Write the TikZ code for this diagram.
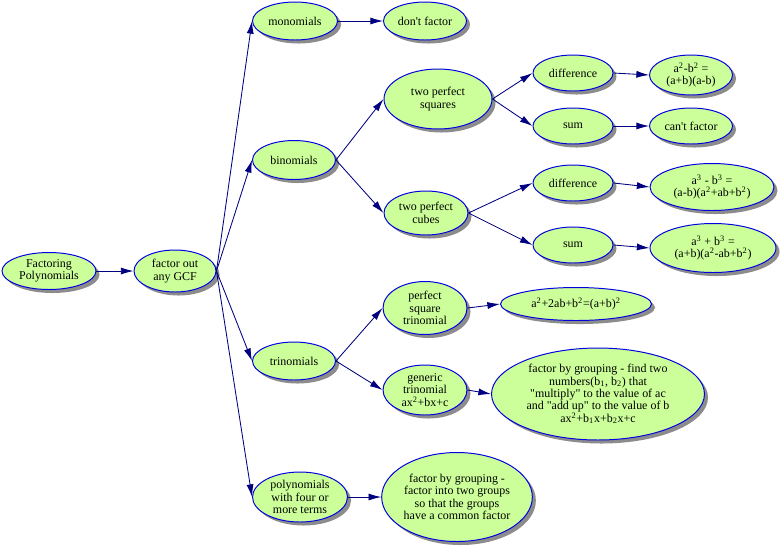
\documentclass[tikz,border=0pt]{standalone}
\usepackage{fontspec}
\setmainfont{Liberation Serif}
\usepackage{xcolor}
\usepackage{tikz}
\usetikzlibrary{positioning,shapes.geometric,shadows,arrows.meta}

\definecolor{bubblefill}{HTML}{CCFF99}
\definecolor{bubbleline}{HTML}{0000E0}
\definecolor{arrowline}{HTML}{000080}

\begin{document}
\begin{tikzpicture}[x=0.025cm, y=-0.025cm,
	bubble/.style={ellipse, draw=bubbleline, line width=0.7pt, fill=bubblefill,
		inner sep=0pt, align=center, font=\fontsize{8.5}{8.8}\selectfont,
		drop shadow={shadow xshift=2.5pt, shadow yshift=-2.5pt, fill=black!45, opacity=1}},
	link/.style={-{Latex[length=9pt, width=5pt]}, draw=arrowline, line width=0.6pt}]
	\useasboundingbox (0,0) rectangle (780,547);

	\node[bubble, minimum width=94pt*0.711, minimum height=37pt*0.711] (fp) at (49,271) {Factoring\\Polynomials};
	\node[bubble, minimum width=82pt*0.711, minimum height=42pt*0.711] (gcf) at (175,271) {factor out\\any GCF};

	\node[bubble, minimum width=85pt*0.711, minimum height=38pt*0.711] (mono) at (295,21) {monomials};
	\node[bubble, minimum width=83pt*0.711, minimum height=38pt*0.711] (dont) at (425,21) {don\textquotesingle t factor};

	\node[bubble, minimum width=83pt*0.711, minimum height=39pt*0.711] (bin) at (294,160) {binomials};
	\node[bubble, minimum width=108pt*0.711, minimum height=60pt*0.711] (sq) at (438,99) {two perfect\\squares};
	\node[bubble, minimum width=84pt*0.711, minimum height=44pt*0.711] (cub) at (426,213) {two perfect\\cubes};

	\node[bubble, minimum width=80pt*0.711, minimum height=36pt*0.711] (diffa) at (573,73) {difference};
	\node[bubble, minimum width=83pt*0.711, minimum height=40pt*0.711] (sqdiff) at (691,75) {a\textsuperscript{2}-b\textsuperscript{2} =\\(a+b)(a-b)};
	\node[bubble, minimum width=80pt*0.711, minimum height=36pt*0.711] (suma) at (573,126) {sum};
	\node[bubble, minimum width=83pt*0.711, minimum height=36pt*0.711] (cant) at (691,126) {can\textquotesingle t factor};

	\node[bubble, minimum width=80pt*0.711, minimum height=36pt*0.711] (diffb) at (573,183) {difference};
	\node[bubble, minimum width=124pt*0.711, minimum height=47pt*0.711] (cubdiff) at (712,187) {a\textsuperscript{3} - b\textsuperscript{3} =\\(a-b)(a\textsuperscript{2}+ab+b\textsuperscript{2})};
	\node[bubble, minimum width=80pt*0.711, minimum height=36pt*0.711] (sumb) at (573,245) {sum};
	\node[bubble, minimum width=126pt*0.711, minimum height=49pt*0.711] (cubsum) at (713,248) {a\textsuperscript{3} + b\textsuperscript{3} =\\(a+b)(a\textsuperscript{2}-ab+b\textsuperscript{2})};

	\node[bubble, minimum width=83pt*0.711, minimum height=38pt*0.711] (tri) at (294,361) {trinomials};
	\node[bubble, minimum width=84pt*0.711, minimum height=53pt*0.711] (pst) at (425,308) {perfect\\square\\trinomial};
	\node[bubble, minimum width=151pt*0.711, minimum height=33pt*0.711] (pstform) at (576,304) {a\textsuperscript{2}+2ab+b\textsuperscript{2}=(a+b)\textsuperscript{2}};
	\node[bubble, minimum width=84pt*0.711, minimum height=50pt*0.711] (gen) at (425,390) {generic\\trinomial\\ax\textsuperscript{2}+bx+c};
	\node[bubble, minimum width=213pt*0.711, minimum height=92pt*0.711] (group) at (598,394) {factor by grouping - find two\\numbers(b\textsubscript{1}, b\textsubscript{2}) that\\\textquotedbl multiply\textquotedbl{} to the value of ac\\and \textquotedbl add up\textquotedbl{} to the value of b\\ax\textsuperscript{2}+b\textsubscript{1}x+b\textsubscript{2}x+c};

	\node[bubble, minimum width=95pt*0.711, minimum height=50pt*0.711] (poly) at (300,497) {polynomials\\with four or\\more terms};
	\node[bubble, minimum width=147pt*0.711, minimum height=89pt*0.711] (twogr) at (457,497) {factor by grouping -\\factor into two groups\\so that the groups\\have a common factor};

	% connectors
	\draw[link] (fp.east) -- (gcf.west);
	\draw[link] (gcf.east) -- (mono.west);
	\draw[link] (gcf.east) -- (bin.west);
	\draw[link] (gcf.east) -- (tri.west);
	\draw[link] (gcf.east) -- (poly.west);
	\draw[link] (mono.east) -- (dont.west);
	\draw[link] (bin.east) -- (sq.west);
	\draw[link] (bin.east) -- (cub.west);
	\draw[link] (sq.east) -- (diffa.west);
	\draw[link] (sq.east) -- (suma.west);
	\draw[link] (diffa.east) -- (sqdiff.west);
	\draw[link] (suma.east) -- (cant.west);
	\draw[link] (cub.east) -- (diffb.west);
	\draw[link] (cub.east) -- (sumb.west);
	\draw[link] (diffb.east) -- (cubdiff.west);
	\draw[link] (sumb.east) -- (cubsum.west);
	\draw[link] (tri.east) -- (pst.west);
	\draw[link] (tri.east) -- (gen.west);
	\draw[link] (pst.east) -- (pstform.west);
	\draw[link] (gen.east) -- (group.west);
	\draw[link] (poly.east) -- (twogr.west);
\end{tikzpicture}
\end{document}
